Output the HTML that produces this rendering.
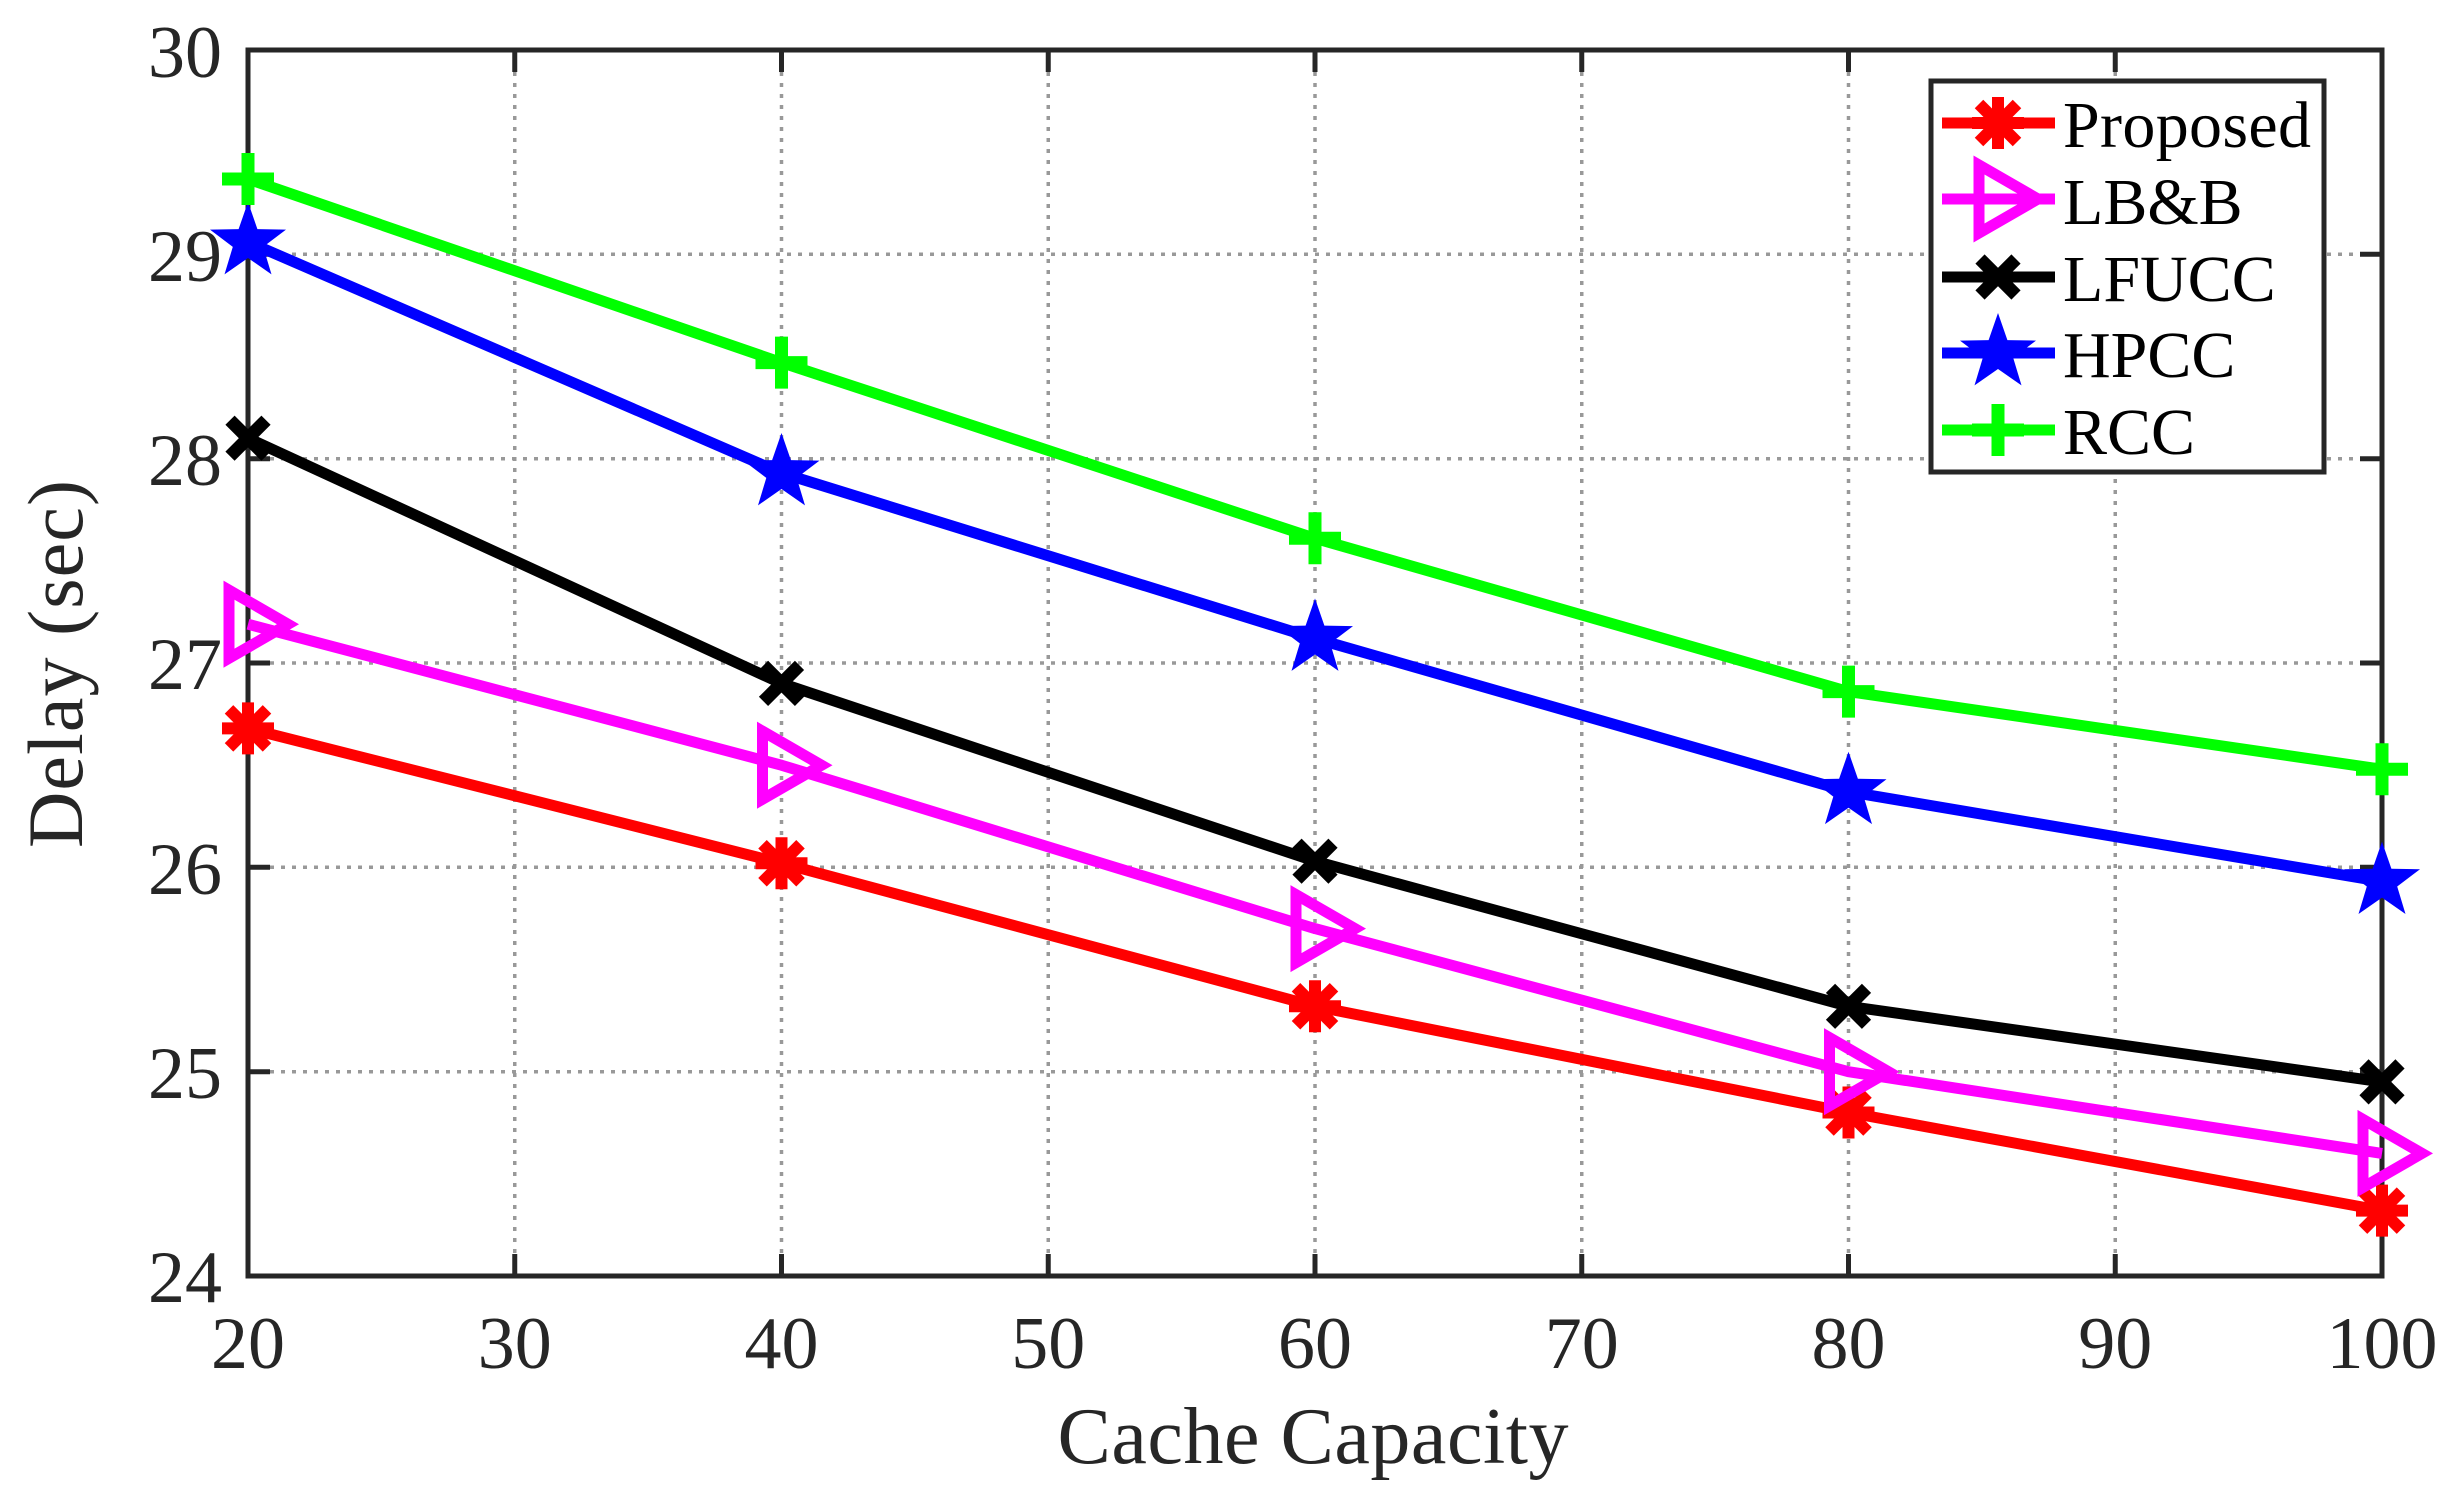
<!DOCTYPE html>
<html><head><meta charset="utf-8"><style>
html,body{margin:0;padding:0;background:#fff;}
svg{display:block;}
text{font-family:"Liberation Serif",serif;fill:#262626;}
</style></head><body>
<svg width="2459" height="1497" viewBox="0 0 2459 1497" xmlns="http://www.w3.org/2000/svg">
<defs>
<g id="ast" stroke="#f00" stroke-width="12" fill="none">
<line x1="-26" y1="0" x2="26" y2="0"/><line x1="0" y1="-26" x2="0" y2="26"/>
<line x1="-19" y1="-19" x2="19" y2="19"/><line x1="-19" y1="19" x2="19" y2="-19"/>
</g>
<polygon id="tri" points="-19,-34 40,0 -19,34" fill="none" stroke="#f0f" stroke-width="11" stroke-linejoin="miter"/>
<g id="xm" stroke="#000" stroke-width="13"><line x1="-18" y1="-18" x2="18" y2="18"/><line x1="-18" y1="18" x2="18" y2="-18"/></g>
<polygon id="star" fill="#00f" points="0,-40 9.4,-12.9 38,-12.4 15.2,4.9 23.5,32.4 0,16 -23.5,32.4 -15.2,4.9 -38,-12.4 -9.4,-12.9"/>
<g id="plus" stroke="#0f0" stroke-width="13"><line x1="-26" y1="0" x2="26" y2="0"/><line x1="0" y1="-26" x2="0" y2="26"/></g>
</defs>
<g stroke="#999" stroke-width="3.5" stroke-dasharray="4,7">
<line x1="248" y1="254.3" x2="2382" y2="254.3"/>
<line x1="248" y1="458.7" x2="2382" y2="458.7"/>
<line x1="248" y1="663" x2="2382" y2="663"/>
<line x1="248" y1="867.3" x2="2382" y2="867.3"/>
<line x1="248" y1="1071.7" x2="2382" y2="1071.7"/>
<line x1="514.75" y1="50" x2="514.75" y2="1276"/>
<line x1="781.5" y1="50" x2="781.5" y2="1276"/>
<line x1="1048.25" y1="50" x2="1048.25" y2="1276"/>
<line x1="1315" y1="50" x2="1315" y2="1276"/>
<line x1="1581.75" y1="50" x2="1581.75" y2="1276"/>
<line x1="1848.5" y1="50" x2="1848.5" y2="1276"/>
<line x1="2115.25" y1="50" x2="2115.25" y2="1276"/>
</g>
<g stroke="#262626" stroke-width="5" fill="none">
<rect x="248" y="50" width="2134" height="1226"/>
<path d="M248 254.3h22M248 458.7h22M248 663h22M248 867.3h22M248 1071.7h22M2382 254.3h-22M2382 458.7h-22M2382 663h-22M2382 867.3h-22M2382 1071.7h-22"/>
<path d="M514.75 1276v-22M781.5 1276v-22M1048.25 1276v-22M1315 1276v-22M1581.75 1276v-22M1848.5 1276v-22M2115.25 1276v-22M514.75 50v22M781.5 50v22M1048.25 50v22M1315 50v22M1581.75 50v22M1848.5 50v22M2115.25 50v22"/>
</g>
<g font-size="74" text-anchor="end">
<text x="222" y="77">30</text><text x="222" y="281">29</text><text x="222" y="485">28</text>
<text x="222" y="689">27</text><text x="222" y="894">26</text><text x="222" y="1098">25</text><text x="222" y="1302">24</text>
</g>
<g font-size="74" text-anchor="middle">
<text x="248" y="1368">20</text><text x="514.75" y="1368">30</text><text x="781.5" y="1368">40</text>
<text x="1048.25" y="1368">50</text><text x="1315" y="1368">60</text><text x="1581.75" y="1368">70</text>
<text x="1848.5" y="1368">80</text><text x="2115.25" y="1368">90</text><text x="2382" y="1368">100</text>
</g>
<text x="1313" y="1463" font-size="80" text-anchor="middle" textLength="511">Cache Capacity</text>
<text transform="translate(82,664) rotate(-90)" font-size="78" text-anchor="middle" textLength="368">Delay (sec)</text>
<g fill="none" stroke-width="11" stroke-linejoin="round">
<polyline stroke="#f00" points="248,728.4 781.5,863.2 1315,1006.3 1848.5,1112.5 2382,1210.6"/>
<polyline stroke="#f0f" points="248,624.2 781.5,765.2 1315,928.6 1848.5,1071.7 2382,1153.4"/>
<polyline stroke="#000" points="248,438.2 781.5,683.4 1315,861.2 1848.5,1006.3 2382,1081.9"/>
<polyline stroke="#00f" points="248,242 781.5,473 1315,638.5 1848.5,791.7 2382,881.6"/>
<polyline stroke="#0f0" points="248,179 781.5,362.6 1315,538.3 1848.5,691.6 2382,769.3"/>
</g>
<use href="#ast" x="248" y="728.4"/><use href="#ast" x="781.5" y="863.2"/><use href="#ast" x="1315" y="1006.3"/><use href="#ast" x="1848.5" y="1112.5"/><use href="#ast" x="2382" y="1210.6"/>
<use href="#tri" x="248" y="624.2"/><use href="#tri" x="781.5" y="765.2"/><use href="#tri" x="1315" y="928.6"/><use href="#tri" x="1848.5" y="1071.7"/><use href="#tri" x="2382" y="1153.4"/>
<use href="#xm" x="248" y="438.2"/><use href="#xm" x="781.5" y="683.4"/><use href="#xm" x="1315" y="861.2"/><use href="#xm" x="1848.5" y="1006.3"/><use href="#xm" x="2382" y="1081.9"/>
<use href="#star" x="248" y="242"/><use href="#star" x="781.5" y="473"/><use href="#star" x="1315" y="638.5"/><use href="#star" x="1848.5" y="791.7"/><use href="#star" x="2382" y="881.6"/>
<use href="#plus" x="248" y="179"/><use href="#plus" x="781.5" y="362.6"/><use href="#plus" x="1315" y="538.3"/><use href="#plus" x="1848.5" y="691.6"/><use href="#plus" x="2382" y="769.3"/>
<rect x="1931" y="81" width="393" height="391" fill="#fff" stroke="#262626" stroke-width="5"/>
<g stroke-width="11">
<line x1="1942" y1="123" x2="2055" y2="123" stroke="#f00"/>
<line x1="1942" y1="199" x2="2055" y2="199" stroke="#f0f"/>
<line x1="1942" y1="277" x2="2055" y2="277" stroke="#000"/>
<line x1="1942" y1="353" x2="2055" y2="353" stroke="#00f"/>
<line x1="1942" y1="430" x2="2055" y2="430" stroke="#0f0"/>
</g>
<use href="#ast" x="1998" y="123"/><use href="#tri" x="1998" y="199"/><use href="#xm" x="1998" y="277"/><use href="#star" x="1998" y="353"/><use href="#plus" x="1998" y="430"/>
<g font-size="66">
<text x="2063" y="147" textLength="248" style="fill:#000">Proposed</text>
<text x="2063" y="224" style="fill:#000">LB&amp;B</text>
<text x="2063" y="301" style="fill:#000">LFUCC</text>
<text x="2063" y="377" style="fill:#000">HPCC</text>
<text x="2063" y="454" style="fill:#000">RCC</text>
</g>
</svg>
</body></html>
